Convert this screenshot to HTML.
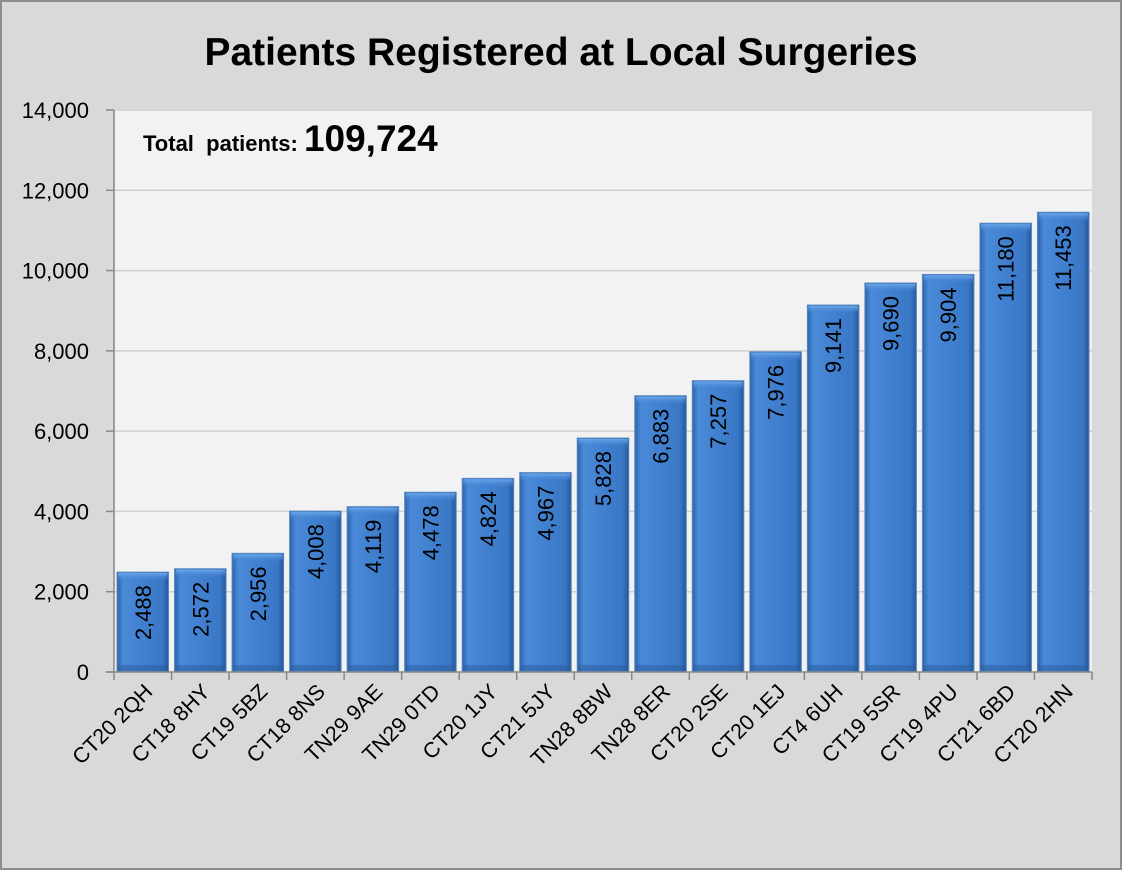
<!DOCTYPE html>
<html><head><meta charset="utf-8"><style>
html,body{margin:0;padding:0;background:#d9d9d9;}
svg{display:block;font-family:"Liberation Sans",Arial,sans-serif;}
</style></head><body>
<svg id="c" width="1122" height="870" xmlns="http://www.w3.org/2000/svg">
<defs>
<linearGradient id="bh" x1="0" x2="1" y1="0" y2="0">
<stop offset="0" stop-color="#2d62a8"/><stop offset="0.12" stop-color="#4a8ad8"/>
<stop offset="0.5" stop-color="#4080cf"/><stop offset="0.88" stop-color="#3a78c6"/><stop offset="1" stop-color="#24569a"/>
</linearGradient>
<linearGradient id="tp" x1="0" x2="0" y1="0" y2="1">
<stop offset="0" stop-color="#6aa6ea"/><stop offset="1" stop-color="#4080cf" stop-opacity="0"/>
</linearGradient>
</defs>
<rect x="1" y="1" width="1120" height="868" fill="#d9d9d9" stroke="#8c8c8c" stroke-width="2"/>
<text x="561" y="65" text-anchor="middle" font-size="39" font-weight="bold" fill="#000">Patients Registered at Local Surgeries</text>
<rect x="114" y="110" width="978" height="562" fill="#f2f2f2"/>
<g id="g"></g>
<text x="143" y="151" font-size="22" font-weight="bold" xml:space="preserve">Total  patients: <tspan font-size="37">109,724</tspan></text>
</svg>
<script>
const s="http://www.w3.org/2000/svg",g=document.getElementById('g');
function el(t,a,txt){const e=document.createElementNS(s,t);for(const k in a)e.setAttribute(k,a[k]);if(txt!=null)e.textContent=txt;g.appendChild(e);return e;}
const Y=v=>672-v*562/14000;
for(let v=2000;v<=14000;v+=2000)el('line',{x1:114,x2:1092,y1:Y(v),y2:Y(v),stroke:'#d0d0d0','stroke-width':1.5});
for(let v=0;v<=14000;v+=2000){el('line',{x1:106,x2:114,y1:Y(v),y2:Y(v),stroke:'#888','stroke-width':1.5});
el('text',{x:89,y:Y(v)+8,'text-anchor':'end','font-size':22},v.toLocaleString('en-US'));}
const d=[["CT20 2QH",2488],["CT18 8HY",2572],["CT19 5BZ",2956],["CT18 8NS",4008],["TN29 9AE",4119],["TN29 0TD",4478],["CT20 1JY",4824],["CT21 5JY",4967],["TN28 8BW",5828],["TN28 8ER",6883],["CT20 2SE",7257],["CT20 1EJ",7976],["CT4 6UH",9141],["CT19 5SR",9690],["CT19 4PU",9904],["CT21 6BD",11180],["CT20 2HN",11453]];
const w=978/17;
d.forEach((r,i)=>{const x0=114+i*w,cx=x0+w/2,y=Y(r[1]);
el('rect',{x:x0+3,y:y,width:w-6,height:672-y,fill:'url(#bh)',stroke:'#5a87bf','stroke-width':1});
el('rect',{x:x0+4,y:y+1,width:w-8,height:8,fill:'url(#tp)'});
el('rect',{x:x0+4,y:665,width:w-8,height:6,fill:'#2a5c9e',opacity:0.5});
el('text',{x:0,y:0,'font-size':22,'text-anchor':'end',transform:`translate(${cx+8},${y+13}) rotate(-90)`},r[1].toLocaleString('en-US'));
el('line',{x1:x0,x2:x0,y1:672,y2:680,stroke:'#888','stroke-width':1.5});
el('text',{x:0,y:0,'font-size':21.5,'text-anchor':'end',transform:`translate(${cx+11},${693}) rotate(-45)`},r[0]);
});
el('line',{x1:1092,x2:1092,y1:672,y2:680,stroke:'#888','stroke-width':1.5});
el('line',{x1:114,x2:114,y1:110,y2:672,stroke:'#888','stroke-width':1.5});
el('line',{x1:106,x2:1092,y1:672,y2:672,stroke:'#888','stroke-width':1.5});
</script>
</body></html>
